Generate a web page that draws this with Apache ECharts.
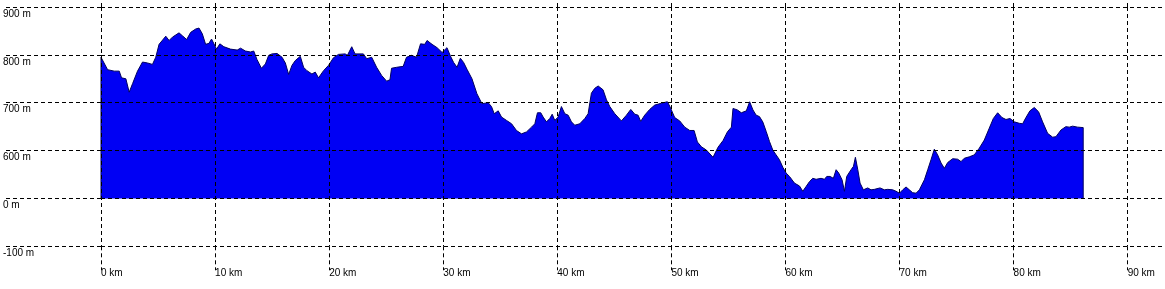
<!DOCTYPE html>
<html>
<head>
<meta charset="utf-8">
<script src="https://cdn.jsdelivr.net/npm/echarts@6/dist/echarts.min.js"></script>
<style>
  html, body { margin: 0; padding: 0; background: #ffffff; }
  #chart { width: 1165px; height: 289px; }
</style>
</head>
<body>
<div id="chart"></div>
<script>
// Distance along the route (km)
const distanceKm = [
  0, 0, 0.58, 1.16, 1.60, 1.80, 2.18, 2.47, 2.77, 3.20, 3.64, 4.08, 4.51, 4.80, 5.09, 5.68, 5.97, 6.26, 6.84, 7.13,
  7.51, 7.86, 8.30, 8.59, 8.88, 9.17, 9.46, 9.69, 9.90, 10.13, 10.42, 10.77, 11.35, 11.94, 12.23, 12.66, 13.10, 13.39,
  13.68, 14.06, 14.41, 14.70, 14.99, 15.43, 15.87, 16.16, 16.45, 16.74, 17.03, 17.47, 17.76, 18.05, 18.49, 18.78, 19.07,
  19.51, 19.94, 20.38, 20.82, 21.40, 21.60, 21.98, 22.27, 23.00, 23.29, 23.73, 24.16, 24.60, 25.04, 25.33, 25.47, 25.91,
  26.49, 26.78, 27.22, 27.66, 28.01, 28.38, 28.58, 29.02, 29.46, 29.90, 30.33, 30.62, 30.91, 31.21, 31.50, 31.79, 32.08,
  32.52, 32.95, 33.39, 33.50, 33.94, 34.23, 34.47, 34.82, 35.11, 35.55, 35.99, 36.42, 36.86, 37.30, 37.74, 38.03, 38.26,
  38.55, 38.76, 39.05, 39.34, 39.55, 39.78, 40.07, 40.36, 40.66, 40.95, 41.24, 41.53, 41.97, 42.41, 42.70, 42.99, 43.28,
  43.58, 44.01, 44.31, 44.60, 45.04, 45.62, 46.06, 46.44, 46.79, 47.08, 47.31, 47.66, 48.10, 48.54, 49.12, 49.65, 49.85,
  50.29, 50.73, 51.17, 51.61, 51.99, 52.28, 52.63, 53.07, 53.65, 54.09, 54.53, 54.91, 55.26, 55.40, 55.78, 56.13, 56.57,
  56.86, 57.15, 57.43, 57.72, 58.01, 58.31, 58.60, 58.89, 59.18, 59.47, 59.77, 60.06, 60.35, 60.79, 61.23, 61.52, 61.81,
  62.10, 62.39, 62.69, 63.12, 63.42, 63.62, 63.91, 64.20, 64.44, 64.67, 64.96, 65.17, 65.37, 65.75, 65.96, 66.13, 66.34,
  66.54, 66.83, 67.21, 67.50, 67.80, 68.29, 68.67, 68.96, 69.40, 69.69, 69.99, 70.28, 70.57, 70.86, 71.15, 71.45, 71.74,
  72.18, 72.47, 72.76, 73.05, 73.34, 73.64, 73.93, 74.22, 74.66, 75.09, 75.39, 75.68, 76.12, 76.55, 76.99, 77.43, 77.87,
  78.22, 78.60, 78.98, 79.33, 79.68, 80.06, 80.50, 80.79, 81.08, 81.43, 81.81, 82.19, 82.54, 82.98, 83.42, 83.71, 84.15,
  84.58, 84.88, 85.17, 85.61, 86.10, 86.10
];

// Elevation (m); first and last points close the profile on the base line
const elevationM = [
  500, 795, 769, 766, 766, 752, 750, 722, 740, 766, 785, 783, 780, 795, 822, 839, 830, 837, 846, 840,
  832, 847, 854, 856, 844, 822, 824, 833, 823, 812, 823, 817, 812, 810, 814, 808, 806, 808,
  790, 772, 781, 799, 802, 803, 795, 783, 759, 778, 788, 797, 774, 767, 760, 764, 752,
  767, 778, 794, 801, 802, 799, 817, 802, 802, 792, 795, 774, 757, 745, 748, 772, 774,
  776, 795, 799, 795, 823, 822, 830, 822, 815, 805, 815, 798, 784, 774, 793, 784, 770,
  750, 719, 698, 699, 700, 692, 677, 683, 670, 663, 656, 642, 635, 639, 649, 656, 679,
  679, 670, 660, 667, 676, 663, 670, 692, 677, 674, 660, 653, 656, 667, 677, 720, 730,
  735, 727, 706, 692, 677, 662, 674, 686, 676, 674, 661, 674, 686, 695, 699, 702, 693,
  669, 662, 649, 642, 642, 618, 608, 601, 586, 607, 621, 639, 649, 688, 685, 679, 683,
  702, 685, 674, 671, 660, 640, 619, 601, 591, 581, 565, 553, 546, 532, 526, 515, 525,
  535, 542, 540, 542, 540, 546, 546, 542, 560, 553, 539, 515, 546, 560, 567, 586, 560,
  532, 518, 522, 518, 519, 522, 518, 519, 518, 515, 511, 518, 524, 518, 512, 511, 518,
  539, 560, 581, 603, 591, 574, 563, 575, 583, 582, 577, 584, 587, 591, 605, 622, 647,
  667, 679, 669, 665, 667, 660, 657, 656, 669, 683, 690, 681, 660, 636, 628, 629, 643,
  650, 649, 651, 649, 648, 500
];

// Axis ticks and their labels
const yTickValues = [400, 500, 600, 700, 800, 900];
const yTickLabels = ['-100 m', '0 m', '600 m', '700 m', '800 m', '900 m'];
const xTickValues = [0, 10, 20, 30, 40, 50, 60, 70, 80, 90];
const xTickLabels = ['0 km', '10 km', '20 km', '30 km', '40 km', '50 km', '60 km', '70 km', '80 km', '90 km'];
const baseElevation = 500;

const seriesData = distanceKm.map((d, i) => [d, elevationM[i]]);

const dash = { color: '#000000', width: 1, type: [4, 3] };
const labelFont = { fontFamily: 'Liberation Sans, Arial, sans-serif', fontSize: 10, color: '#000000' };

const chart = echarts.init(document.getElementById('chart'), null, { renderer: 'canvas' });
chart.setOption({
  animation: false,
  backgroundColor: '#ffffff',
  grid: { left: 98, right: 0, top: 7, bottom: 42.7, containLabel: false },
  xAxis: [
    {
      type: 'value', min: 0, max: 93.27, interval: 10, z: 5,
      axisLine: { show: false },
      axisTick: { show: true, length: 24, inside: false, lineStyle: dash },
      splitLine: { show: true, showMaxLine: false, lineStyle: dash },
      axisLabel: Object.assign({
        show: true, margin: 22, align: 'left', showMaxLabel: false,
        formatter: v => { const k = xTickValues.indexOf(v); return k >= 0 ? xTickLabels[k] : ''; }
      }, labelFont)
    },
    {
      type: 'value', position: 'top', min: 0, max: 93.27, interval: 10, z: 5,
      axisLine: { show: false },
      axisTick: { show: true, length: 7, inside: false, lineStyle: dash },
      splitLine: { show: false },
      axisLabel: { show: false }
    }
  ],
  yAxis: {
    type: 'value', min: 400, max: 900, interval: 100, z: 5,
    axisLine: { show: false },
    axisTick: { show: true, length: 98, inside: false, lineStyle: dash },
    splitLine: { show: true, lineStyle: dash },
    axisLabel: Object.assign({
      show: true, margin: 98, align: 'left', verticalAlign: 'top', padding: [2, 0, 0, 0],
      formatter: v => { const k = yTickValues.indexOf(v); return k >= 0 ? yTickLabels[k] : ''; }
    }, labelFont)
  },
  series: [{
    type: 'line',
    xAxisIndex: 0,
    data: seriesData,
    showSymbol: false,
    symbol: 'none',
    z: 1,
    lineStyle: { color: '#000060', width: 1 },
    areaStyle: { color: '#0000f4', opacity: 1, origin: baseElevation }
  }]
});
</script>
</body>
</html>
